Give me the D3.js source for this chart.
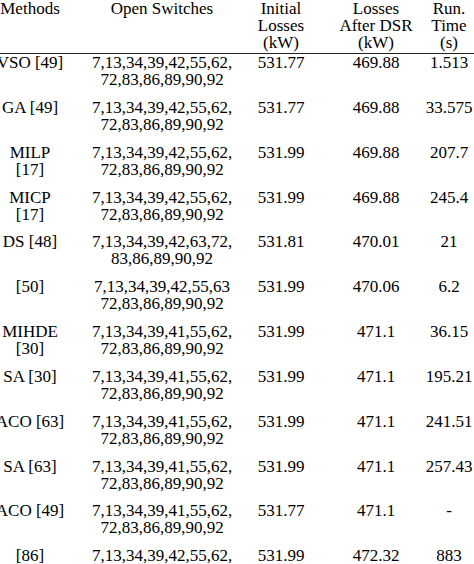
<!DOCTYPE html>
<html><head><meta charset="utf-8">
<script src="https://cdn.jsdelivr.net/npm/d3@7"></script>
<style>body{margin:0;background:#fff}svg{display:block}</style>
</head><body>
<div id="table"></div>
<script>
const columns = ["Methods", "Open Switches", "Initial Losses (kW)", "Losses After DSR (kW)", "Run. Time (s)"];
const headerLines = [["Methods"], ["Open Switches"], ["Initial", "Losses", "(kW)"], ["Losses", "After DSR", "(kW)"], ["Run.", "Time", "(s)"]];
const methods = [["VSO [49]"], ["GA [49]"], ["MILP", "[17]"], ["MICP", "[17]"], ["DS [48]"], ["[50]"], ["MIHDE", "[30]"], ["SA [30]"], ["ACO [63]"], ["SA [63]"], ["ACO [49]"], ["[86]"]];
const switches = [
  ["7,13,34,39,42,55,62,", "72,83,86,89,90,92"],
  ["7,13,34,39,42,55,62,", "72,83,86,89,90,92"],
  ["7,13,34,39,42,55,62,", "72,83,86,89,90,92"],
  ["7,13,34,39,42,55,62,", "72,83,86,89,90,92"],
  ["7,13,34,39,42,63,72,", "83,86,89,90,92"],
  ["7,13,34,39,42,55,63", "72,83,86,89,90,92"],
  ["7,13,34,39,41,55,62,", "72,83,86,89,90,92"],
  ["7,13,34,39,41,55,62,", "72,83,86,89,90,92"],
  ["7,13,34,39,41,55,62,", "72,83,86,89,90,92"],
  ["7,13,34,39,41,55,62,", "72,83,86,89,90,92"],
  ["7,13,34,39,41,55,62,", "72,83,86,89,90,92"],
  ["7,13,34,39,42,55,62,", "72,86,89,90,91,92"]
];
const initialLosses = ["531.77", "531.77", "531.99", "531.99", "531.81", "531.99", "531.99", "531.99", "531.99", "531.99", "531.77", "531.99"];
const lossesAfter = ["469.88", "469.88", "469.88", "469.88", "470.01", "470.06", "471.1", "471.1", "471.1", "471.1", "471.1", "472.32"];
const runTime = ["1.513", "33.575", "207.7", "245.4", "21", "6.2", "36.15", "195.21", "241.51", "257.43", "-", "883"];

const W = 474, H = 564;
const svg = d3.select("#table").append("svg").attr("width", W).attr("height", H)
  .style("font-family", "'Liberation Serif', 'DejaVu Serif', serif").style("font-size", "17px");

// column centres
const x = d3.scaleOrdinal().domain(columns).range([30, 162, 281, 376, 449]);
// rows (top of each row block)
const y = d3.scaleBand().domain(d3.range(methods.length)).range([54, 592]);
const lineH = 17;

// header
headerLines.forEach((lines, c) => {
  svg.append("text").attr("text-anchor", "middle").attr("x", x(columns[c]))
    .selectAll("tspan").data(lines).join("tspan")
    .attr("x", x(columns[c])).attr("y", (d, i) => 14 + i * lineH).text(d => d);
});
svg.append("line").attr("x1", 0).attr("x2", W).attr("y1", 53.5).attr("y2", 53.5)
  .attr("stroke", "#222").attr("stroke-width", 1);

const cells = methods.map((m, i) => [m, switches[i], [initialLosses[i]], [lossesAfter[i]], [runTime[i]]]);
const rows = svg.selectAll("g.row").data(cells).join("g").attr("class", "row")
  .attr("transform", (d, i) => `translate(0,${y(i)})`);
rows.each(function(row) {
  const g = d3.select(this);
  row.forEach((lines, c) => {
    g.append("text").attr("text-anchor", "middle")
      .selectAll("tspan").data(lines).join("tspan")
      .attr("x", x(columns[c])).attr("y", (d, i) => 14 + i * lineH).text(d => d);
  });
});
</script>
</body></html>
